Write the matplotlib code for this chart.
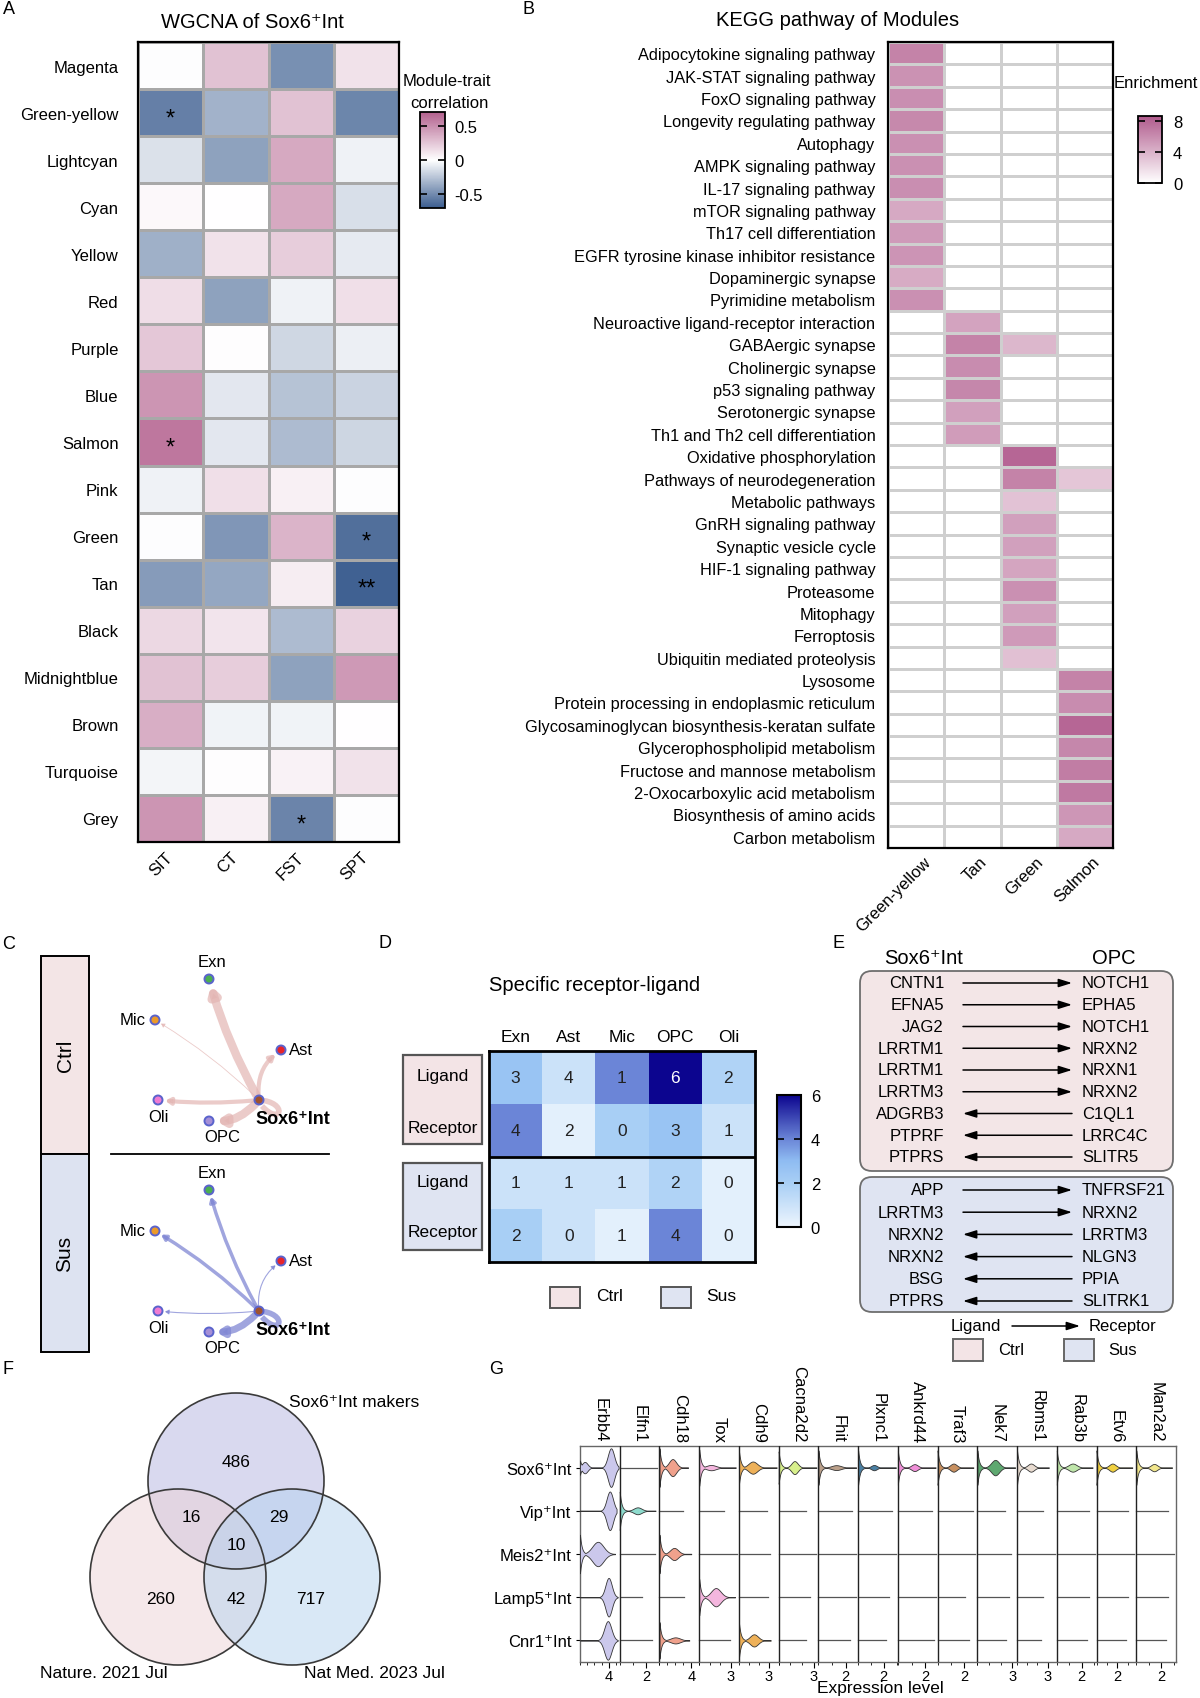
import numpy as np
import matplotlib
matplotlib.use('Agg')
import matplotlib.pyplot as plt
import matplotlib.transforms as mtransforms
from matplotlib.colors import LinearSegmentedColormap
from matplotlib.patches import Circle, Rectangle, FancyBboxPatch, FancyArrowPatch, PathPatch
from matplotlib.path import Path

plt.rcParams['font.family'] = ['Liberation Sans', 'DejaVu Sans']

W, H = 1200, 1699

# ---------------- A: WGCNA module-trait correlation ----------------
modules = ['Magenta', 'Green-yellow', 'Lightcyan', 'Cyan', 'Yellow', 'Red', 'Purple', 'Blue',
           'Salmon', 'Pink', 'Green', 'Tan', 'Black', 'Midnightblue', 'Brown', 'Turquoise', 'Grey']
traits = ['SIT', 'CT', 'FST', 'SPT']
cor_sit = [-0.01, -0.55, -0.13, 0.03, -0.34, 0.15, 0.25, 0.47, 0.60, -0.06, -0.01, -0.43, 0.17, 0.27, 0.36, -0.04, 0.47]
cor_ct = [0.27, -0.33, -0.40, 0.0, 0.13, -0.40, 0.01, -0.10, -0.10, 0.14, -0.45, -0.38, 0.12, 0.22, -0.05, 0.01, 0.07]
cor_fst = [-0.48, 0.27, 0.38, 0.38, 0.22, -0.06, -0.17, -0.26, -0.29, 0.07, 0.33, 0.08, -0.29, -0.40, -0.05, 0.06, -0.53]
cor_spt = [0.13, -0.52, -0.06, -0.14, -0.09, 0.14, -0.07, -0.19, -0.18, -0.01, -0.62, -0.68, 0.20, 0.45, 0.0, 0.13, -0.01]
star_module = ['Green-yellow', 'Salmon', 'Green', 'Tan', 'Grey']
star_trait = ['SIT', 'SIT', 'SPT', 'SPT', 'FST']
star_label = ['*', '*', '*', '**', '*']

# ---------------- B: KEGG enrichment of modules ----------------
pathways = ['Adipocytokine signaling pathway', 'JAK-STAT signaling pathway', 'FoxO signaling pathway',
            'Longevity regulating pathway', 'Autophagy', 'AMPK signaling pathway', 'IL-17 signaling pathway',
            'mTOR signaling pathway', 'Th17 cell differentiation', 'EGFR tyrosine kinase inhibitor resistance',
            'Dopaminergic synapse', 'Pyrimidine metabolism', 'Neuroactive ligand-receptor interaction',
            'GABAergic synapse', 'Cholinergic synapse', 'p53 signaling pathway', 'Serotonergic synapse',
            'Th1 and Th2 cell differentiation', 'Oxidative phosphorylation', 'Pathways of neurodegeneration',
            'Metabolic pathways', 'GnRH signaling pathway', 'Synaptic vesicle cycle', 'HIF-1 signaling pathway',
            'Proteasome', 'Mitophagy', 'Ferroptosis', 'Ubiquitin mediated proteolysis', 'Lysosome',
            'Protein processing in endoplasmic reticulum', 'Glycosaminoglycan biosynthesis-keratan sulfate',
            'Glycerophospholipid metabolism', 'Fructose and mannose metabolism', '2-Oxocarboxylic acid metabolism',
            'Biosynthesis of amino acids', 'Carbon metabolism']
kegg_modules = ['Green-yellow', 'Tan', 'Green', 'Salmon']
enr_greenyellow = [6.5, 5.7, 5.9, 6.2, 5.8, 5.8, 5.9, 4.5, 5.3, 5.6, 4.4, 5.8,
                   0, 0, 0, 0, 0, 0, 0, 0, 0, 0, 0, 0, 0, 0, 0, 0, 0, 0, 0, 0, 0, 0, 0, 0]
enr_tan = [0, 0, 0, 0, 0, 0, 0, 0, 0, 0, 0, 0, 4.8, 6.5, 6.0, 6.3, 5.0, 5.2,
           0, 0, 0, 0, 0, 0, 0, 0, 0, 0, 0, 0, 0, 0, 0, 0, 0, 0]
enr_green = [0, 0, 0, 0, 0, 0, 0, 0, 0, 0, 0, 0, 0, 3.8, 0, 0, 0, 0,
             8.0, 6.5, 3.2, 5.0, 5.0, 4.7, 5.8, 5.0, 5.3, 3.3, 0, 0, 0, 0, 0, 0, 0, 0]
enr_salmon = [0, 0, 0, 0, 0, 0, 0, 0, 0, 0, 0, 0, 0, 0, 0, 0, 0, 0,
              0, 3.0, 0, 0, 0, 0, 0, 0, 0, 0, 6.5, 6.0, 8.0, 6.3, 6.8, 7.0, 5.5, 4.5]

# ---------------- C: cell-cell communication strength ----------------
targets = ['Exn', 'Ast', 'Mic', 'Oli', 'OPC']
ctrl_strength = [6.0, 3.0, 0.6, 3.0, 6.0]
sus_strength = [2.5, 0.8, 2.5, 0.8, 5.0]
ctrl_self = 4.0
sus_self = 4.0

# ---------------- D: number of specific receptor-ligand pairs ----------------
lr_cells = ['Exn', 'Ast', 'Mic', 'OPC', 'Oli']
n_ctrl_ligand = [3, 4, 1, 6, 2]
n_ctrl_receptor = [4, 2, 0, 3, 1]
n_sus_ligand = [1, 1, 1, 2, 0]
n_sus_receptor = [2, 0, 1, 4, 0]
score_ctrl_ligand = [2.6, 1.0, 4.0, 6.0, 1.8]
score_ctrl_receptor = [4.0, 0.3, 2.0, 2.6, 1.0]
score_sus_ligand = [1.0, 1.0, 1.0, 1.8, 0.3]
score_sus_receptor = [2.0, 1.0, 0.3, 4.0, 0.3]

# ---------------- E: Sox6+Int - OPC pairs ----------------
ctrl_left = ['CNTN1', 'EFNA5', 'JAG2', 'LRRTM1', 'LRRTM1', 'LRRTM3', 'ADGRB3', 'PTPRF', 'PTPRS']
ctrl_right = ['NOTCH1', 'EPHA5', 'NOTCH1', 'NRXN2', 'NRXN1', 'NRXN2', 'C1QL1', 'LRRC4C', 'SLITR5']
ctrl_dir = ['>', '>', '>', '>', '>', '>', '<', '<', '<']
sus_left = ['APP', 'LRRTM3', 'NRXN2', 'NRXN2', 'BSG', 'PTPRS']
sus_right = ['TNFRSF21', 'NRXN2', 'LRRTM3', 'NLGN3', 'PPIA', 'SLITRK1']
sus_dir = ['>', '>', '<', '<', '<', '<']

# ---------------- F: Venn counts ----------------
venn_sets = ['Sox6⁺Int makers', 'Nature. 2021 Jul', 'Nat Med. 2023 Jul']
venn_only = [486, 260, 717]      # top, left, right
venn_top_left = 16
venn_top_right = 29
venn_left_right = 42
venn_all = 10

# ---------------- G: stacked violin ----------------
violin_genes = ['Erbb4', 'Elfn1', 'Cdh18', 'Tox', 'Cdh9', 'Cacna2d2', 'Fhit', 'Plxnc1', 'Ankrd44',
                'Traf3', 'Nek7', 'Rbms1', 'Rab3b', 'Etv6', 'Man2a2']
violin_groups = ['Sox6⁺Int', 'Vip⁺Int', 'Meis2⁺Int', 'Lamp5⁺Int', 'Cnr1⁺Int']
expr_max = [5.5, 3.0, 5.0, 3.8, 4.0, 3.4, 2.9, 3.1, 2.9, 3.0, 3.4, 3.9, 3.2, 3.8, 3.2]
expr_tick = [4, 2, 4, 3, 3, 3, 2, 2, 2, 2, 3, 3, 2, 2, 2]
# each entry: (height at zero, [(position, height, width)], extent) or a plain extent for an empty row
vio_sox6 = [(0.35, [(0.12, 0.28, 0.07), (0.78, 0.95, 0.08)], 0.97), 0.95,
            (0.95, [(0.33, 0.42, 0.09)], 0.72), (0.9, [(0.3, 0.13, 0.12)], 0.92),
            (0.85, [(0.35, 0.3, 0.11)], 0.95), (0.8, [(0.4, 0.32, 0.08)], 0.95),
            (0.85, [(0.45, 0.12, 0.12)], 0.95), (0.85, [(0.4, 0.13, 0.07)], 0.95),
            (0.85, [(0.42, 0.17, 0.08)], 0.95), (0.85, [(0.4, 0.2, 0.08)], 0.9),
            (0.85, [(0.45, 0.38, 0.1)], 0.95), (0.85, [(0.35, 0.2, 0.08)], 0.8),
            (0.85, [(0.4, 0.2, 0.1)], 0.9), (0.85, [(0.4, 0.2, 0.08)], 0.9),
            (0.85, [(0.45, 0.18, 0.08)], 0.9)]
vio_vip = [(0.0, [(0.75, 0.95, 0.08)], 0.92), (0.95, [(0.45, 0.17, 0.1)], 0.9),
           0.6, 0.62, 0.7, 0.7, 0.85, 0.85, 0.85, 0.9, 0.7, 0.65, 0.8, 0.8, 0.8]
vio_meis2 = [(0.95, [(0.45, 0.6, 0.14)], 0.88), 0.9, (0.95, [(0.37, 0.3, 0.1)], 0.8),
             0.95, 0.78, 0.95, 0.95, 0.95, 0.95, 0.95, 0.85, 0.95, 0.95, 0.95, 0.95]
vio_lamp5 = [(0.0, [(0.72, 0.95, 0.08)], 0.95), 0.55, 0.62, (0.9, [(0.42, 0.45, 0.12)], 0.9),
             0.72, 0.8, 0.95, 0.78, 0.95, 0.7, 0.8, 0.65, 0.8, 0.8, 0.8]
vio_cnr1 = [(0.0, [(0.7, 0.95, 0.09)], 0.95), 0.82, (0.9, [(0.4, 0.15, 0.12)], 0.75), 0.78,
            (0.9, [(0.38, 0.3, 0.1)], 0.8), 0.68, 0.8, 0.7, 0.9, 0.8, 0.72, 0.6, 0.75, 0.75, 0.75]
gene_colors = ['#cbc8ec', '#8edbcd', '#f0a18c', '#f4b6de', '#eeb159', '#d8f08c', '#bba08a', '#4b80a3',
               '#f08fd8', '#c89060', '#5ea870', '#e8dbd0', '#bfe6aa', '#f0d040', '#f1e68c']

fig = plt.figure(figsize=(W / 100, H / 100), dpi=100)


def px_axes(x0, y0, x1, y1):
    # axes placed by pixel box (top-left origin)
    return fig.add_axes([x0 / W, 1 - y1 / H, (x1 - x0) / W, (y1 - y0) / H])


ov = fig.add_axes([0, 0, 1, 1], zorder=10)
ov.set_xlim(0, W)
ov.set_ylim(H, 0)
ov.axis('off')
ov.patch.set_alpha(0)

for lab, x, y in [('A', 3, 10), ('B', 522, 10), ('C', 2, 945), ('D', 378, 944),
                  ('E', 833, 944), ('F', 2, 1370), ('G', 489, 1370)]:
    ov.text(x, y, lab, fontsize=13, ha='left', va='center')

# ===== A =====
cmapA = LinearSegmentedColormap.from_list('wgcna', ['#3b5d8f', '#ffffff', '#b3618e'])
axA = px_axes(138, 43, 399, 843)
corr = np.column_stack([cor_sit, cor_ct, cor_fst, cor_spt])
meshA = axA.pcolormesh(corr, cmap=cmapA, vmin=-0.7, vmax=0.7, edgecolors='#a8a8a8', linewidth=1)
axA.set_xlim(0, 4)
axA.set_ylim(len(modules), 0)
axA.set_yticks(np.arange(len(modules)) + 0.5)
axA.set_yticklabels(modules, fontsize=12)
axA.set_xticks(np.arange(4) + 0.5)
axA.set_xticklabels(traits, fontsize=12, rotation=45, ha='right', va='center', rotation_mode='anchor')
axA.tick_params(axis='y', length=0, pad=14)
axA.tick_params(axis='x', length=0, pad=9)
for s in axA.spines.values():
    s.set_linewidth(1.6)
for m, t, lab in zip(star_module, star_trait, star_label):
    axA.text(traits.index(t) + 0.5, modules.index(m) + 0.62, lab, ha='center', va='center', fontsize=17)
ov.text(252, 22, 'WGCNA of Sox6⁺Int', fontsize=14.5, ha='center', va='center')

caxA = px_axes(420, 113, 445, 209)
cbA = fig.colorbar(meshA, cax=caxA, ticks=[-0.5, 0, 0.5])
cbA.ax.set_yticklabels(['-0.5', '0', '0.5'])
cbA.ax.tick_params(direction='in', length=5, width=1.2, left=True, right=True, labelsize=12, pad=7)
cbA.outline.set_linewidth(1.3)
ov.text(447, 82, 'Module-trait', fontsize=12, ha='center', va='center')
ov.text(449, 103, 'correlation', fontsize=12, ha='center', va='center')

# ===== B =====
cmapB = LinearSegmentedColormap.from_list('kegg', ['#ffffff', '#b05a8c'])
axB = px_axes(888, 43, 1113, 849)
enr = np.column_stack([enr_greenyellow, enr_tan, enr_green, enr_salmon])
meshB = axB.pcolormesh(enr, cmap=cmapB, vmin=0, vmax=8.65, edgecolors='#cfcfcf', linewidth=0.8)
axB.set_xlim(0, 4)
axB.set_ylim(len(pathways), 0)
axB.set_yticks(np.arange(len(pathways)) + 0.5)
axB.set_yticklabels(pathways, fontsize=11.8)
axB.set_xticks(np.arange(4) + 0.5)
axB.set_xticklabels(kegg_modules, fontsize=12, rotation=45, ha='right', va='center', rotation_mode='anchor')
axB.tick_params(axis='y', length=0, pad=9)
axB.tick_params(axis='x', length=0, pad=8)
shift = mtransforms.ScaledTranslation(0.12, 0, fig.dpi_scale_trans)
for lbl in axB.get_xticklabels():
    lbl.set_transform(lbl.get_transform() + shift)
for s in axB.spines.values():
    s.set_linewidth(1.6)
ov.text(838, 20, 'KEGG pathway of Modules', fontsize=14.5, ha='center', va='center')

caxB = px_axes(1138, 117, 1162, 184)
cbB = fig.colorbar(meshB, cax=caxB, ticks=[0, 4, 8])
cbB.ax.tick_params(direction='in', length=5, width=1.2, left=True, right=True, labelsize=12, pad=8)
cbB.outline.set_linewidth(1.3)
ov.text(1156, 84, 'Enrichment', fontsize=12, ha='center', va='center')

# ===== C =====
ov.add_patch(Rectangle((41, 957), 48, 198, facecolor='#f3e5e6', edgecolor='k', lw=1.4))
ov.add_patch(Rectangle((41, 1155), 48, 198, facecolor='#dde3f1', edgecolor='k', lw=1.4))
ov.text(65, 1056, 'Ctrl', rotation=90, fontsize=15, ha='center', va='center')
ov.text(65, 1254, 'Sus', rotation=90, fontsize=15, ha='center', va='center')
ov.plot([111, 329], [1155, 1155], color='k', lw=1.3)

node_pos = {'Exn': (209, 980), 'Mic': (155, 1021), 'Ast': (281, 1051),
            'Oli': (158, 1101), 'OPC': (209, 1122), 'Sox6': (259, 1101)}
node_col = {'Exn': '#4caf50', 'Mic': '#ec9a2a', 'Ast': '#e8242a', 'Oli': '#f07bd2',
            'OPC': '#a58fd6', 'Sox6': '#a0522d'}
edge_rad = {'Exn': -0.06, 'Ast': -0.3, 'Mic': 0.06, 'Oli': -0.05, 'OPC': -0.25}
label_off = {'Exn': (3, -17, 'center'), 'Mic': (-9, 0, 'right'), 'Ast': (8, 0, 'left'),
             'Oli': (0, 17, 'center'), 'OPC': (13, 16, 'center')}


def draw_network(dy, strength, self_w, ecol):
    sx, sy = node_pos['Sox6']
    sy += dy
    for name, w in zip(targets, strength):
        tx, ty = node_pos[name]
        arr = FancyArrowPatch((sx, sy), (tx, ty + dy), connectionstyle=f'arc3,rad={edge_rad[name]}',
                              arrowstyle='-|>,head_length=0.5,head_width=0.3', mutation_scale=4 + 0.6 * w,
                              lw=w, color=ecol, shrinkA=4, shrinkB=5, zorder=2)
        ov.add_patch(arr)
    loop = Path([(sx, sy), (sx + 30, sy + 2), (sx + 22, sy + 27), (sx + 3, sy + 6)],
                [Path.MOVETO, Path.CURVE4, Path.CURVE4, Path.CURVE4])
    ov.add_patch(PathPatch(loop, fill=False, lw=self_w, edgecolor=ecol, zorder=2))
    for name, (x, y) in node_pos.items():
        ov.add_patch(Circle((x, y + dy), 4.5, facecolor=node_col[name], edgecolor='#5a63cc', lw=1.4, zorder=4))
        if name in label_off:
            ox, oy, ha = label_off[name]
            ov.text(x + ox, y + dy + oy, name, fontsize=12, ha=ha, va='center')
    ov.text(sx - 4, sy + 19, 'Sox6⁺Int', fontsize=13, fontweight='bold', ha='left', va='center')


draw_network(0, ctrl_strength, ctrl_self, (0.89, 0.71, 0.70, 0.7))
draw_network(211, sus_strength, sus_self, (0.50, 0.53, 0.83, 0.75))

# ===== D =====
cmapD = LinearSegmentedColormap.from_list('lr', [(0, '#edf5fd'), (0.33, '#a9cff5'), (0.5, '#8fbcf2'),
                                                (0.67, '#6a84d6'), (1, '#0c058f')])
axD = px_axes(489, 1052, 755, 1263)
scores = np.array([score_ctrl_ligand, score_ctrl_receptor, score_sus_ligand, score_sus_receptor])
counts = [n_ctrl_ligand, n_ctrl_receptor, n_sus_ligand, n_sus_receptor]
meshD = axD.pcolormesh(scores, cmap=cmapD, vmin=0, vmax=6)
axD.set_xlim(0, 5)
axD.set_ylim(4, 0)
for i, row in enumerate(counts):
    for j, v in enumerate(row):
        axD.text(j + 0.5, i + 0.5, str(v), ha='center', va='center', fontsize=12.5,
                 color='white' if scores[i, j] > 5 else '#222222')
axD.axhline(2, color='k', lw=2)
axD.set_yticks([])
axD.xaxis.tick_top()
axD.set_xticks(np.arange(5) + 0.5)
axD.set_xticklabels(lr_cells, fontsize=12.5)
axD.tick_params(axis='x', length=0, pad=5)
for s in axD.spines.values():
    s.set_linewidth(2)
ov.text(595, 986, 'Specific receptor-ligand', fontsize=14.5, ha='center', va='center')
ov.add_patch(Rectangle((403, 1056), 79, 89, facecolor='#f3e4e6', edgecolor='#555555', lw=1.6))
ov.add_patch(Rectangle((403, 1164), 79, 87, facecolor='#dfe4f2', edgecolor='#555555', lw=1.6))
for y, t in [(1077, 'Ligand'), (1129, 'Receptor'), (1183, 'Ligand'), (1233, 'Receptor')]:
    ov.text(443, y, t, fontsize=12.5, ha='center', va='center')

caxD = px_axes(777, 1096, 801, 1228)
cbD = fig.colorbar(meshD, cax=caxD, ticks=[0, 2, 4, 6])
cbD.ax.tick_params(direction='in', length=5, width=1.2, left=True, right=True, labelsize=12, pad=7)
cbD.outline.set_linewidth(1.5)

ov.add_patch(Rectangle((550, 1288), 30, 21, facecolor='#f3e4e6', edgecolor='#555555', lw=1.4))
ov.text(596, 1297, 'Ctrl', fontsize=12.5, ha='left', va='center')
ov.add_patch(Rectangle((661, 1288), 30, 21, facecolor='#dfe4f2', edgecolor='#555555', lw=1.4))
ov.text(706, 1297, 'Sus', fontsize=12.5, ha='left', va='center')

# ===== E =====
ov.text(924, 959, 'Sox6⁺Int', fontsize=14.5, ha='center', va='center')
ov.text(1114, 959, 'OPC', fontsize=14.5, ha='center', va='center')
ov.add_patch(FancyBboxPatch((860, 972), 313, 200, boxstyle='round,pad=0,rounding_size=12',
                            facecolor='#f3e6e7', edgecolor='#6e6e6e', lw=1.3))
ov.add_patch(FancyBboxPatch((860, 1178), 313, 135, boxstyle='round,pad=0,rounding_size=12',
                            facecolor='#dfe4f2', edgecolor='#6e6e6e', lw=1.3))


def pair_rows(y0, step, left, right, dirs):
    for k, (a, b, d) in enumerate(zip(left, right, dirs)):
        y = y0 + k * step
        ov.text(944, y, a, fontsize=12, ha='right', va='center')
        ov.text(1082, y, b, fontsize=12, ha='left', va='center')
        p0, p1 = ((963, y), (1072, y)) if d == '>' else ((1072, y), (963, y))
        ov.annotate('', xy=p1, xytext=p0,
                    arrowprops=dict(arrowstyle='-|>,head_length=0.8,head_width=0.25', lw=1.1, color='k',
                                    shrinkA=0, shrinkB=0, mutation_scale=10))


pair_rows(984, 21.75, ctrl_left, ctrl_right, ctrl_dir)
pair_rows(1191, 22.2, sus_left, sus_right, sus_dir)
ov.text(951, 1327, 'Ligand', fontsize=12, ha='left', va='center')
ov.annotate('', xy=(1080, 1327), xytext=(1012, 1327),
            arrowprops=dict(arrowstyle='-|>,head_length=0.8,head_width=0.25', lw=1.1, color='k',
                            shrinkA=0, shrinkB=0, mutation_scale=10))
ov.text(1089, 1327, 'Receptor', fontsize=12, ha='left', va='center')
ov.add_patch(Rectangle((953, 1340), 30, 22, facecolor='#f3e4e6', edgecolor='#666666', lw=1.4))
ov.text(998, 1351, 'Ctrl', fontsize=12, ha='left', va='center')
ov.add_patch(Rectangle((1064, 1340), 30, 22, facecolor='#dfe4f2', edgecolor='#666666', lw=1.4))
ov.text(1108, 1351, 'Sus', fontsize=12, ha='left', va='center')

# ===== F =====
venn_centers = [(236, 1482), (178, 1578), (292, 1578)]
venn_fill = ['#b5b5e0', '#ecd3d6', '#b4d3ef']
for (cx, cy), fc in zip(venn_centers, venn_fill):
    ov.add_patch(Circle((cx, cy), 88, facecolor=fc, alpha=0.5, edgecolor='none'))
for cx, cy in venn_centers:
    ov.add_patch(Circle((cx, cy), 88, fill=False, edgecolor='#3a3a3a', lw=1.2))
venn_text = [(236, 1463, venn_only[0]), (161, 1600, venn_only[1]), (311, 1600, venn_only[2]),
             (191, 1518, venn_top_left), (279, 1518, venn_top_right), (236, 1600, venn_left_right),
             (236, 1546, venn_all)]
for x, y, v in venn_text:
    ov.text(x, y, str(v), fontsize=12.5, ha='center', va='center')
ov.text(354, 1403, venn_sets[0], fontsize=12.5, ha='center', va='center')
ov.text(104, 1674, venn_sets[1], fontsize=12.5, ha='center', va='center')
ov.text(374, 1674, venn_sets[2], fontsize=12.5, ha='center', va='center')

# ===== G =====
axG = px_axes(580, 1447, 1176, 1663)
ng = len(violin_genes)
axG.set_xlim(0, ng)
axG.set_ylim(len(violin_groups), 0)
rows = [vio_sox6, vio_vip, vio_meis2, vio_lamp5, vio_cnr1]
for r, row in enumerate(rows):
    base = r + 0.5
    for c, spec in enumerate(row):
        if not isinstance(spec, tuple):
            axG.plot([c, c + spec], [base, base], color='#555555', lw=0.9, zorder=2)
            continue
        spike, bumps, xmax = spec
        t = np.linspace(0, xmax, 300)
        hw = spike * np.exp(-t / 0.045)
        for pos, hh, ww in bumps:
            hw = np.maximum(hw, hh * np.exp(-0.5 * ((t - pos) / ww) ** 2))
        hw = np.maximum(hw, 0.012) * 0.47
        axG.fill_between(c + t, base - hw, base + hw, facecolor=gene_colors[c], edgecolor='#333333',
                         lw=0.6, zorder=3)
for c in range(1, ng):
    axG.axvline(c, color='#222222', lw=1.0, zorder=4)
for s in axG.spines.values():
    s.set_color('#666666')
    s.set_linewidth(1.0)
axG.set_yticks(np.arange(len(violin_groups)) + 0.5)
axG.set_yticklabels(violin_groups, fontsize=12)
axG.tick_params(axis='y', length=3, pad=3)
major = [c + expr_tick[c] / expr_max[c] for c in range(ng)]
minor = [c + k / expr_max[c] for c in range(ng) for k in range(int(expr_max[c]) + 1)]
axG.set_xticks(major)
axG.set_xticklabels([str(v) for v in expr_tick], fontsize=10.5)
axG.set_xticks(minor, minor=True)
axG.tick_params(axis='x', which='major', length=4, pad=1)
axG.tick_params(axis='x', which='minor', length=2.5)
for c, g in enumerate(violin_genes):
    ov.text(580 + (c + 0.5) * 596 / ng, 1443, g, rotation=-90, fontsize=12, ha='center', va='bottom')
ov.text(880, 1689, 'Expression level', fontsize=12.5, ha='center', va='center')

fig.savefig('out.png', dpi=100)
